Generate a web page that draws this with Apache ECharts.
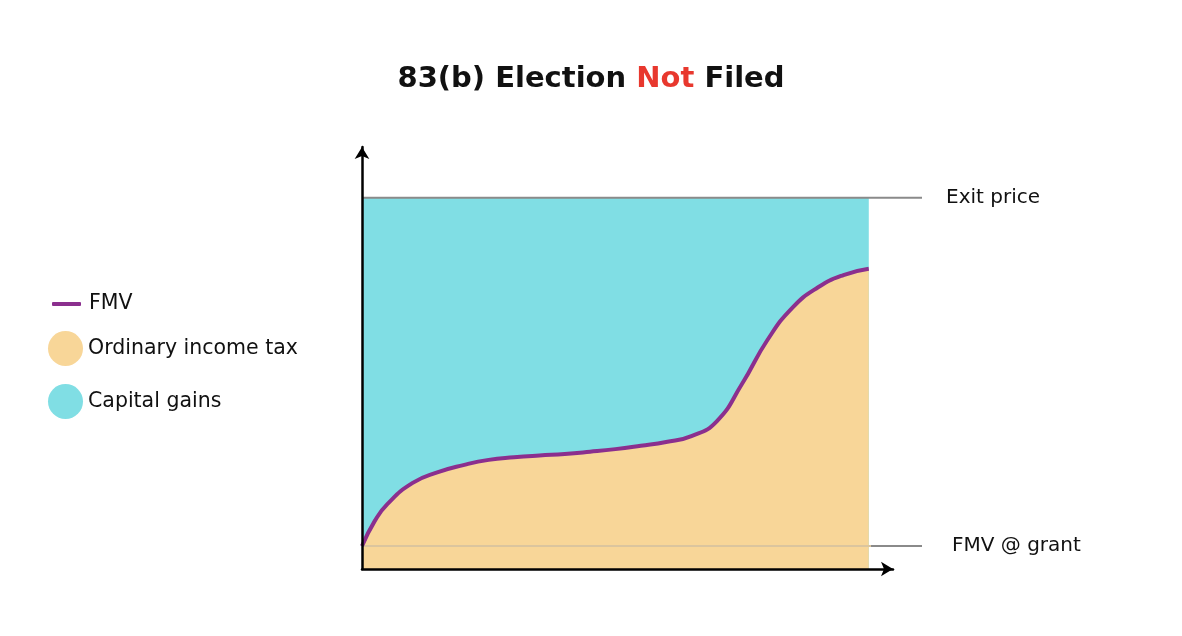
<!DOCTYPE html>
<html>
<head>
<meta charset="utf-8">
<script src="https://cdn.jsdelivr.net/npm/echarts@6/dist/echarts.min.js"></script>
<style>
html,body{margin:0;padding:0;background:#fff;}
#chart{width:1182px;height:636px;}
</style>
</head>
<body>
<div id="chart"></div>
<script>
// ---- data ----
var fmvX = [0, 2.5, 5, 10, 15, 20, 25, 30, 35, 40, 45, 50, 55, 60, 65, 70, 75, 80, 85, 90, 95, 100];
var fmvY = [6.2, 12.9, 17.5, 23.2, 26.1, 28.0, 29.4, 30.1, 30.6, 31.0, 31.6, 32.3, 33.2, 34.2, 35.8, 39.8, 49.9, 61.7, 70.5, 75.9, 79.2, 80.9];
var exitPrice = 100;
var fmvAtGrant = 6.2;
var periodEnd = 100;
var refLineEnd = 110.5;
var arrowEnd = 104.7;
var yMax = 113.7;
var legendNames = ['FMV', 'Ordinary income tax', 'Capital gains'];
var refLabels = ['Exit price', 'FMV @ grant'];

var C_TEAL = '#80DEE4', C_ORANGE = '#F8D698', C_PURPLE = '#8B2F8E', C_GRAY = '#8a8a8a', C_TAN = '#DBC59E';
var FONT = 'DejaVu Sans';

var fmvData = fmvX.map(function (x, i) { return [x, fmvY[i]]; });
var cut = periodEnd / refLineEnd;

function refLine(name, y, dist, inner) {
  return {
    name: name, type: 'line', silent: true, xAxisIndex: 0, yAxisIndex: 0,
    showSymbol: false, symbol: 'none',
    lineStyle: { width: 2, color: inner ? {
      type: 'linear', x: 0, y: 0, x2: 1, y2: 0,
      colorStops: [{ offset: 0, color: inner }, { offset: cut, color: inner }, { offset: cut, color: C_GRAY }, { offset: 1, color: C_GRAY }]
    } : C_GRAY },
    endLabel: {
      show: true, distance: dist, formatter: name,
      color: '#111', fontSize: 20, fontFamily: FONT
    },
    data: [[0, y], [refLineEnd, y]]
  };
}

function hiddenAxis(max, idx) {
  return {
    type: 'value', min: 0, max: max, gridIndex: idx,
    axisLine: { show: false }, axisTick: { show: false }, axisLabel: { show: false }, splitLine: { show: false }
  };
}
function arrowAxis(max, idx) {
  return {
    type: 'value', min: 0, max: max, gridIndex: idx, z: 20,
    axisLine: { show: true, symbol: ['none', 'arrow'], symbolSize: [11, 12], lineStyle: { color: '#000', width: 2.5 } },
    axisTick: { show: false }, axisLabel: { show: false }, splitLine: { show: false }
  };
}

var chart = echarts.init(document.getElementById('chart'), null, { renderer: 'canvas' });
chart.setOption({
  animation: false,
  backgroundColor: '#fff',
  title: {
    left: 'center', top: 56,
    text: '{a|83(b) Election }{r|Not}{a| Filed}',
    textStyle: {
      rich: {
        a: { fontFamily: FONT, fontWeight: 700, fontSize: 29, color: '#111', lineHeight: 36 },
        r: { fontFamily: FONT, fontWeight: 700, fontSize: 29, color: '#E8382E', lineHeight: 36 }
      }
    }
  },
  legend: [{
    data: [legendNames[0]], orient: 'vertical', left: 47, top: 288,
    icon: 'roundRect', itemWidth: 29, itemHeight: 4,
    textStyle: { fontFamily: FONT, fontSize: 20.5, color: '#111', lineHeight: 22, padding: [0, 0, 0, 3] },
    selectedMode: false
  }, {
    data: [legendNames[1], legendNames[2]], orient: 'vertical', left: 43, top: 326,
    icon: 'circle', itemWidth: 35, itemHeight: 35, itemGap: 18,
    textStyle: { fontFamily: FONT, fontSize: 20.5, color: '#111' },
    selectedMode: false
  }],
  grid: [
    { left: 362, right: 260, top: 147, bottom: 67 },
    { left: 362, right: 289, top: 147, bottom: 67 }
  ],
  xAxis: [hiddenAxis(refLineEnd, 0), arrowAxis(arrowEnd, 1)],
  yAxis: [hiddenAxis(yMax, 0), arrowAxis(yMax, 1)],
  series: [
    {
      name: legendNames[2], type: 'line', showSymbol: false, symbol: 'none',
      itemStyle: { color: C_TEAL },
      lineStyle: { width: 0, color: C_TEAL },
      areaStyle: { color: C_TEAL, opacity: 1 },
      data: [[0, exitPrice], [periodEnd, exitPrice]]
    },
    {
      name: legendNames[1], type: 'line', showSymbol: false, symbol: 'none',
      smooth: 0.5,
      itemStyle: { color: C_ORANGE },
      lineStyle: { width: 0, color: C_ORANGE },
      areaStyle: { color: C_ORANGE, opacity: 1 },
      data: fmvData
    },
    refLine(refLabels[1], fmvAtGrant, 30, C_TAN),
    {
      name: legendNames[0], type: 'line', showSymbol: false, symbol: 'none',
      smooth: 0.5,
      itemStyle: { color: C_PURPLE },
      lineStyle: { width: 4, color: C_PURPLE },
      data: fmvData
    },
    refLine(refLabels[0], exitPrice, 24, null),
    {
      name: 'axes', type: 'line', xAxisIndex: 1, yAxisIndex: 1, data: [], silent: true
    }
  ]
});
</script>
</body>
</html>
